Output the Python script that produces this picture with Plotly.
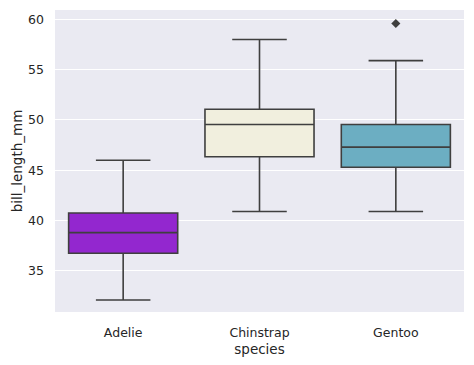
import plotly.graph_objects as go

species = ["Adelie", "Chinstrap", "Gentoo"]
q1 = [36.75, 46.35, 45.3]
median = [38.8, 49.55, 47.3]
q3 = [40.75, 51.075, 49.55]
lower = [32.1, 40.9, 40.9]
upper = [46.0, 58.0, 55.9]
outlier_species = ["Gentoo"]
outlier_values = [59.6]
colors = ["#9327CF", "#F1EFDE", "#6CAEC2"]

line_col = "#3F3F3F"
fig = go.Figure()
for i, sp in enumerate(species):
    fig.add_trace(go.Box(
        x=[sp], q1=[q1[i]], median=[median[i]], q3=[q3[i]],
        lowerfence=[lower[i]], upperfence=[upper[i]],
        fillcolor=colors[i], line=dict(color=line_col, width=1.6),
        width=0.8, whiskerwidth=0.5, boxpoints=False, showlegend=False,
        hoverinfo="skip",
    ))
fig.add_trace(go.Scatter(
    x=outlier_species, y=outlier_values, mode="markers",
    marker=dict(symbol="diamond", size=7, color=line_col),
    showlegend=False,
))

font_col = "#262626"
fig.update_layout(
    width=458, height=349,
    margin=dict(l=47, r=2, t=2, b=45),
    paper_bgcolor="white", plot_bgcolor="#EAEAF2",
    boxmode="overlay",
    font=dict(family="DejaVu Sans", size=12.5, color=font_col),
    xaxis=dict(
        type="category", categoryorder="array", categoryarray=species,
        range=[-0.5, 2.5], showgrid=False, zeroline=False, showline=False,
        ticks="", ticklabelstandoff=11, automargin=False,
        title=dict(text="species", font=dict(size=13.5, color=font_col), standoff=6),
        tickfont=dict(size=12.5, color=font_col),
    ),
    yaxis=dict(
        range=[30.9, 60.94], tickmode="array", tickvals=[35, 40, 45, 50, 55, 60],
        showgrid=True, gridcolor="white", gridwidth=1, zeroline=False, showline=False,
        ticks="", ticklabelstandoff=10, automargin=False,
        title=dict(text="bill_length_mm", font=dict(size=13.5, color=font_col), standoff=2),
        tickfont=dict(size=12.5, color=font_col),
    ),
)
fig.write_html("out.html")
